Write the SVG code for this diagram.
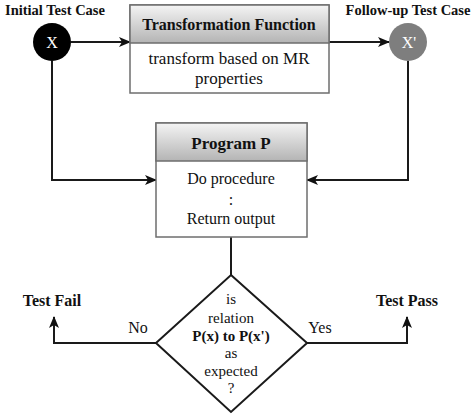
<svg xmlns="http://www.w3.org/2000/svg" width="474" height="414" viewBox="0 0 474 414" font-family="'Liberation Serif', Tinos, 'Times New Roman', 'DejaVu Serif', serif">
<defs>
<linearGradient id="hdr" x1="0" y1="0" x2="0" y2="1">
<stop offset="0" stop-color="#f4f4f4"/>
<stop offset="1" stop-color="#b4b4b4"/>
</linearGradient>
<marker id="arr" viewBox="0 0 12 10" refX="11" refY="5" markerWidth="12" markerHeight="10" markerUnits="userSpaceOnUse" orient="auto">
<path d="M0,0 L12,5 L0,10 L3,5 Z" fill="#111"/>
</marker>
</defs>
<style>
text{font-family:"Liberation Serif",Tinos,"Times New Roman","DejaVu Serif",serif;fill:#111;text-anchor:middle}
.b{font-weight:bold}
.w{fill:#fff}
.box{fill:#fff;stroke:#6e6e6e;stroke-width:1.5}
.hd{fill:url(#hdr);stroke:#6e6e6e;stroke-width:1.5}
.ln{fill:none;stroke:#1a1a1a;stroke-width:2}
</style>
<g id="connectors">
<path class="ln" d="M71,42 H130" marker-end="url(#arr)"/>
<path class="ln" d="M329,42 H389" marker-end="url(#arr)"/>
<path class="ln" d="M52,61 V180 H156" marker-end="url(#arr)"/>
<path class="ln" d="M408,61 V180 H307" marker-end="url(#arr)"/>
<path class="ln" d="M231,237 V275"/>
<path class="ln" d="M156,343 H54 V317" marker-end="url(#arr)"/>
<path class="ln" d="M307,343 H407 V317" marker-end="url(#arr)"/>
<text x="138" y="333" font-size="16">No</text>
<text x="320" y="333" font-size="16">Yes</text>
</g>
<g id="initial">
<text class="b" x="55" y="15" font-size="14.5">Initial Test Case</text>
<circle cx="52" cy="42" r="19" fill="#000"/>
<text class="w" x="52" y="48" font-size="16">X</text>
</g>
<g id="followup">
<text class="b" x="408" y="15" font-size="14.5">Follow-up Test Case</text>
<circle cx="408" cy="42" r="19" fill="#7e7e7e"/>
<text class="w" x="409" y="48" font-size="16">X'</text>
</g>
<g id="transformation">
<rect class="box" x="130" y="5" width="199" height="88"/>
<rect class="hd" x="130" y="5" width="199" height="38"/>
<text class="b" x="229" y="30" font-size="16">Transformation Function</text>
<text x="229" y="64" font-size="17">transform based on MR</text>
<text x="229" y="84" font-size="17">properties</text>
</g>
<g id="program">
<rect class="box" x="156" y="123" width="151" height="114"/>
<rect class="hd" x="156" y="123" width="151" height="38"/>
<text class="b" x="231" y="149" font-size="17">Program P</text>
<text x="231" y="184" font-size="16">Do procedure</text>
<text x="231" y="205" font-size="16">:</text>
<text x="231" y="224" font-size="16">Return output</text>
</g>
<g id="decision">
<path d="M231,275 L307,343 L231,412 L156,343 Z" fill="#fff" stroke="#1a1a1a" stroke-width="2"/>
<text x="231" y="304" font-size="15">is</text>
<text x="231" y="323" font-size="15">relation</text>
<text class="b" x="231" y="341" font-size="15">P(x) to P(x')</text>
<text x="231" y="358" font-size="15">as</text>
<text x="231" y="376" font-size="15">expected</text>
<text x="231" y="393" font-size="15">?</text>
</g>
<g id="fail">
<text class="b" x="52" y="306" font-size="16">Test Fail</text>
</g>
<g id="pass">
<text class="b" x="407" y="306" font-size="16">Test Pass</text>
</g>
</svg>
